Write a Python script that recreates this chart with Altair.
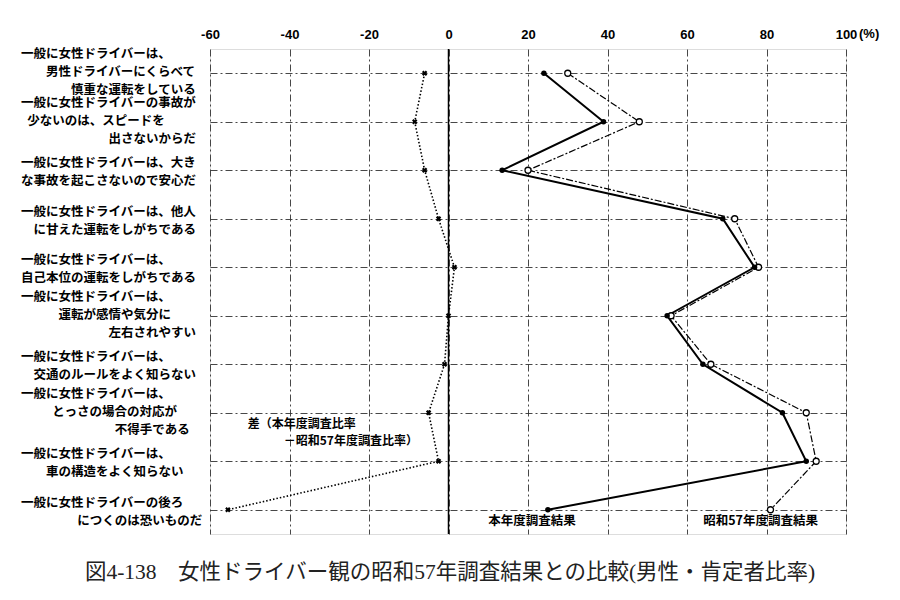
import altair as alt
import pandas as pd

Z = "\u200b"   # zero-width char keeps the indent from being trimmed
I = "\u3000"   # full-width space (indent)
H = "\u2002"   # half-width space

label_lines = [
    ["一般に女性ドライバーは、", Z + I * 2 + "男性ドライバーにくらべて", Z + I * 4 + "慎重な運転をしている"],
    ["一般に女性ドライバーの事故が", Z + H + "少ないのは、スピードを", Z + I * 7 + "出さないからだ"],
    ["一般に女性ドライバーは、大き", "な事故を起こさないので安心だ"],
    ["一般に女性ドライバーは、他人", Z + I + "に甘えた運転をしがちである"],
    ["一般に女性ドライバーは、", "自己本位の運転をしがちである"],
    ["一般に女性ドライバーは、", Z + I * 3 + "運転が感情や気分に", Z + I * 7 + "左右されやすい"],
    ["一般に女性ドライバーは、", Z + I + "交通のルールをよく知らない"],
    ["一般に女性ドライバーは、", Z + I * 2 + H + "とっさの場合の対応が", Z + I * 7 + H + "不得手である"],
    ["一般に女性ドライバーは、", Z + I * 2 + "車の構造をよく知らない"],
    ["一般に女性ドライバーの後ろ", Z + I * 4 + H + "につくのは恐いものだ"],
]
items = ["|".join(lines) for lines in label_lines]

current = [24, 39, 13.5, 69, 77, 55, 64, 84, 90, 25]        # 本年度調査結果
showa57 = [30, 48, 20, 72, 78, 56, 66, 90, 92.5, 81]        # 昭和57年度調査結果
diff = [-6, -8.5, -6, -2.5, 1.5, 0, -1, -5, -2.5, -55.5]   # 差

x_ticks = [-60, -40, -20, 0, 20, 40, 60, 80, 100]
x_domain = [-60, 100]

diff_label = "差（本年度調査比率|" + Z + I * 3 + "－昭和57年度調査比率）"
diff_label_x = -50.5
end_labels = ["本年度調査結果", "昭和57年度調査結果"]
end_labels_x = [21, 78.5]
caption = "図4-138　女性ドライバー観の昭和57年調査結果との比較(男性・肯定者比率)"

JP = "Noto Sans CJK JP"
NUM = "Liberation Sans"

df = pd.DataFrame({
    "item": items,
    "idx": list(range(len(items))),
    "current": current,
    "showa57": showa57,
    "diff": diff,
})

line_rows = []
for i, lines in enumerate(label_lines):
    for j, t in enumerate(lines):
        line_rows.append({"item": items[i], "line": t, "key": f"{len(lines)}-{j}"})
lines_df = pd.DataFrame(line_rows)
line_dy = {"3-0": -19, "3-1": -1, "3-2": 17, "2-0": -7, "2-1": 11}

GRID = dict(grid=True, gridColor="#333", gridDash=[7, 3, 2, 3], gridWidth=0.9, gridOpacity=1)

xscale = alt.Scale(domain=x_domain, nice=False, zero=False)
xaxis = alt.Axis(
    orient="top", values=x_ticks, title=None, ticks=False, domain=False,
    labelExpr="'' + datum.value",
    labelFont=NUM, labelFontSize=13, labelFontWeight="bold", labelColor="black",
    labelPadding=8, labelFlush=False, **GRID,
)
yaxis = alt.Axis(orient="left", title=None, ticks=False, domain=False, labels=False, **GRID)
y_enc = alt.Y("item:N", scale=alt.Scale(domain=items, padding=0.5), axis=yaxis, title=None)


def xenc(field):
    return alt.X(f"{field}:Q", scale=xscale, axis=xaxis, title=None)


base = alt.Chart(df)

zero_rule = alt.Chart(pd.DataFrame({"v": [0]})).mark_rule(
    color="black", strokeWidth=1.5
).encode(x=xenc("v"))

cur_line = base.mark_line(color="black", strokeWidth=2).encode(
    x=xenc("current"), y=y_enc, order="idx:Q")
cur_pts = base.mark_point(shape="circle", filled=True, color="black", size=30, opacity=1).encode(
    x=xenc("current"), y=y_enc)

s57_line = base.mark_line(color="black", strokeWidth=1.2, strokeDash=[7, 2, 2, 2]).encode(
    x=xenc("showa57"), y=y_enc, order="idx:Q")
s57_pts = base.mark_point(shape="circle", filled=True, fill="white", stroke="black",
                          strokeWidth=1.3, size=36, opacity=1).encode(
    x=xenc("showa57"), y=y_enc)

diff_line = base.mark_line(color="black", strokeWidth=1.6, strokeDash=[1.5, 2]).encode(
    x=xenc("diff"), y=y_enc, order="idx:Q")
diff_pts = base.mark_point(shape="cross", angle=45, filled=True, color="black", size=30, opacity=1).encode(
    x=xenc("diff"), y=y_enc)

pct = alt.Chart(pd.DataFrame({"v": [100], "t": ["(%)"]})).mark_text(
    align="left", baseline="bottom", dx=13, font=NUM, fontSize=13, fontWeight="bold", color="black"
).encode(x=xenc("v"), y=alt.value(-8), text="t:N")

diff_ann = alt.Chart(pd.DataFrame({"v": [diff_label_x], "item": [items[7]], "t": [diff_label]})).mark_text(
    align="left", baseline="top", dy=6, lineBreak="|", lineHeight=17.5,
    font=JP, fontSize=12, fontWeight="bold", color="black"
).encode(x=xenc("v"), y=y_enc, text="t:N")

end_ann = alt.Chart(pd.DataFrame({"v": end_labels_x, "item": [items[9]] * 2, "t": end_labels})).mark_text(
    align="center", baseline="middle", dy=11,
    font=JP, fontSize=12.5, fontWeight="bold", color="black"
).encode(x=xenc("v"), y=y_enc, text="t:N")

label_layers = []
for key, dy in line_dy.items():
    label_layers.append(
        alt.Chart(lines_df).transform_filter(alt.datum.key == key).mark_text(
            align="left", baseline="middle", dy=dy,
            font=JP, fontSize=12.5, fontWeight="bold", color="black"
        ).encode(x=alt.value(-189), y=y_enc, text="line:N")
    )

chart = alt.layer(
    zero_rule, diff_line, diff_pts, s57_line, cur_line, s57_pts, cur_pts, pct, diff_ann, end_ann,
    *label_layers
).properties(
    width=636,
    height=485,
    padding={"left": 13, "top": 20, "right": 5, "bottom": 5},
    title=alt.Title(
        text=caption, orient="bottom", anchor="middle", frame="bounds", offset=27,
        font="Liberation Serif, Noto Sans CJK JP", fontSize=21.5, fontWeight="normal", color="#222",
    ),
).configure_view(
    stroke="black", strokeWidth=1.6
).configure(
    background="white"
)

chart.save("out.html", embed_options={"renderer": "svg", "actions": False})
